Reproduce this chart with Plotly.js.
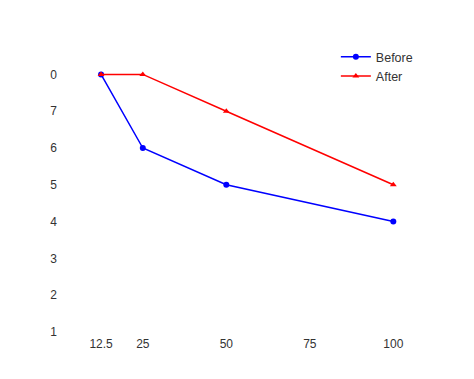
<!DOCTYPE html>
<html><head><meta charset="utf-8">
<script src="https://cdn.plot.ly/plotly-3.0.1.min.js"></script>
<style>body{margin:0;background:#fff}#c{width:474px;height:379px}</style>
</head><body><div id="c"></div>
<script>
const xValues = [12.5, 25, 50, 100];
const beforeValues = [8, 6, 5, 4];
const afterValues = [8, 8, 7, 5];
const xTickVals = [12.5, 25, 50, 75, 100];
const xTickText = ["12.5", "25", "50", "75", "100"];
const yTickVals = [1, 2, 3, 4, 5, 6, 7, 8];
const yTickText = ["1", "2", "3", "4", "5", "6", "7", "0"];

const traces = [
  {x: xValues, y: beforeValues, name: "Before", mode: "lines+markers",
   line: {color: "#0000ff", width: 1.5}, marker: {symbol: "circle", size: 6, color: "#0000ff"}},
  {x: xValues, y: afterValues, name: "After", mode: "lines+markers",
   line: {color: "#ff0000", width: 1.5}, marker: {symbol: "triangle-up", size: 6, color: "#ff0000"}}
];
const layout = {
  width: 474, height: 379,
  margin: {l: 76, r: 64, t: 56, b: 47},
  paper_bgcolor: "#fff", plot_bgcolor: "#fff",
  font: {family: "Liberation Sans, Arial, sans-serif", size: 12, color: "#333"},
  showlegend: true,
  legend: {x: 0.778, xanchor: "left", y: 1.05, yanchor: "top", bgcolor: "rgba(0,0,0,0)", font: {size: 12.5, color: "#333"}, tracegroupgap: 0},
  xaxis: {range: [5, 105], tickvals: xTickVals, ticktext: xTickText, showgrid: false, zeroline: false, showline: false, ticks: "", ticklabelstandoff: 3},
  yaxis: {range: [1, 8.5], tickvals: yTickVals, ticktext: yTickText, showgrid: false, zeroline: false, showline: false, ticks: "", ticklabelstandoff: 18}
};
Plotly.newPlot("c", traces, layout, {displayModeBar: false, staticPlot: true});
</script></body></html>
